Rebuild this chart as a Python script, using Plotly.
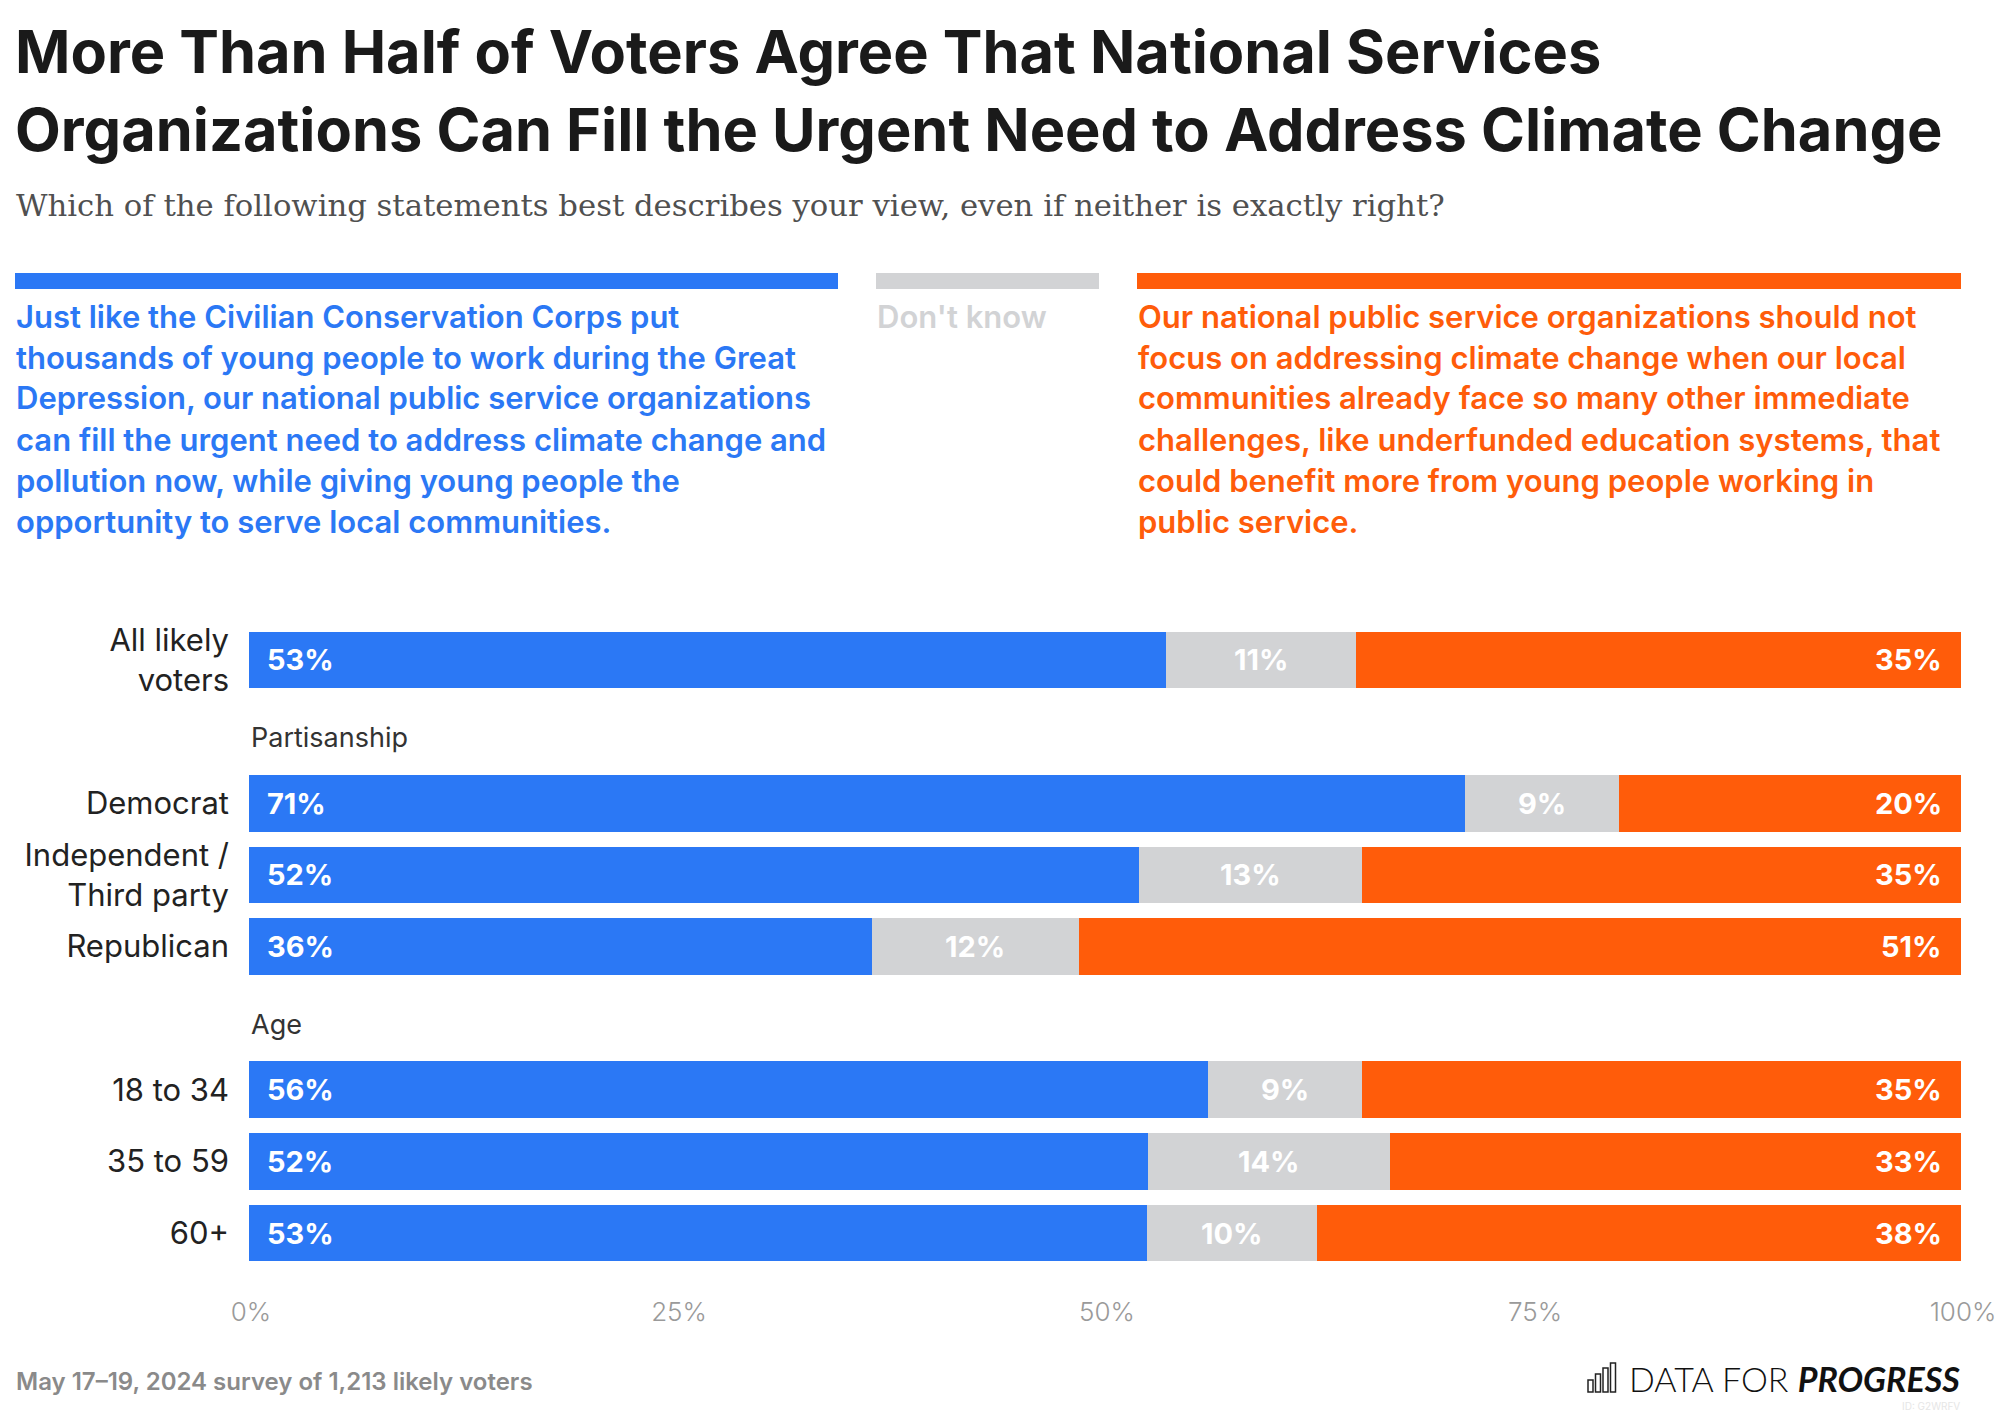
import plotly.graph_objects as go

# ---------------- data ----------------
categories = ["All likely<br>voters", "Democrat", "Independent /<br>Third party", "Republican",
              "18 to 34", "35 to 59", "60+"]
row_positions = [0, 2, 3, 4, 6, 7, 8]
agree_vals = [53, 71, 52, 36, 56, 52, 53]
dontknow_vals = [11, 9, 13, 12, 9, 14, 10]
disagree_vals = [35, 20, 35, 51, 35, 33, 38]
group_headers = ["Partisanship", "Age"]
group_header_positions = [1, 5]
x_tickvals = [0, 25, 50, 75, 100]
x_ticktext = ["0%", "25%", "50%", "75%", "100%"]

title_lines = [
    "More Than Half of Voters Agree That National Services",
    "Organizations Can Fill the Urgent Need to Address Climate Change",
]
subtitle = "Which of the following statements best describes your view, even if neither is exactly right?"
agree_lines = [
    "Just like the Civilian Conservation Corps put",
    "thousands of young people to work during the Great",
    "Depression, our national public service organizations",
    "can fill the urgent need to address climate change and",
    "pollution now, while giving young people the",
    "opportunity to serve local communities.",
]
dontknow_label = "Don't know"
disagree_lines = [
    "Our national public service organizations should not",
    "focus on addressing climate change when our local",
    "communities already face so many other immediate",
    "challenges, like underfunded education systems, that",
    "could benefit more from young people working in",
    "public service.",
]
footer = "May 17\u201319, 2024 survey of 1,213 likely voters"

BLUE = "#2B78F5"
GRAY = "#D2D3D5"
ORANGE = "#FF5C0A"
FONT = "Inter"

W, H = 1999, 1411
PL, PR, PT, PB = 249, 1961, 617, 1276


def px(x):
    return (x - PL) / (PR - PL)


def py(y):
    return (PB - y) / (PB - PT)


totals = [a + d + o for a, d, o in zip(agree_vals, dontknow_vals, disagree_vals)]
agree_n = [a / t * 100 for a, t in zip(agree_vals, totals)]
dk_n = [d / t * 100 for d, t in zip(dontknow_vals, totals)]
dis_n = [o / t * 100 for o, t in zip(disagree_vals, totals)]

fig = go.Figure()
for vals, col, name in [(agree_n, BLUE, "Agree"), (dk_n, GRAY, "Don't know"), (dis_n, ORANGE, "Disagree")]:
    fig.add_trace(go.Bar(
        y=row_positions, x=vals, orientation="h", marker=dict(color=col, line=dict(width=0)),
        width=0.79, name=name, hoverinfo="skip", showlegend=False,
    ))

ann = []
label_font = dict(family=FONT, size=29, color="white", weight=700)
for i, yv in enumerate(row_positions):
    ann.append(dict(x=0, y=yv, xref="x", yref="y", text=f"{agree_vals[i]}%", showarrow=False,
                    xanchor="left", xshift=16, font=label_font))
    ann.append(dict(x=agree_n[i] + dk_n[i] / 2, y=yv, xref="x", yref="y", text=f"{dontknow_vals[i]}%",
                    showarrow=False, xanchor="center", font=label_font))
    ann.append(dict(x=100, y=yv, xref="x", yref="y", text=f"{disagree_vals[i]}%", showarrow=False,
                    xanchor="right", xshift=-17, font=label_font))

for h, yv in zip(group_headers, group_header_positions):
    ann.append(dict(x=0, y=yv, xref="x", yref="y", text=h, showarrow=False, xanchor="left",
                    yshift=-6, font=dict(family=FONT, size=27, color="#333333")))

# titles
for k, line in enumerate(title_lines):
    ann.append(dict(x=px(13), y=py(51 + 78 * k), xref="paper", yref="paper", text=line,
                    showarrow=False, xanchor="left", yanchor="middle",
                    font=dict(family=FONT, size=59.5, color="#1A1A1A", weight=700)))
ann.append(dict(x=px(14), y=py(205), xref="paper", yref="paper", text=subtitle, showarrow=False,
                xanchor="left", yanchor="middle",
                font=dict(family="DejaVu Serif", size=30.7, color="#505050")))

# legend texts
for k, line in enumerate(agree_lines):
    ann.append(dict(x=px(14), y=py(316 + 41 * k), xref="paper", yref="paper", text=line, showarrow=False,
                    xanchor="left", yanchor="middle", font=dict(family=FONT, size=31, color=BLUE, weight=600)))
ann.append(dict(x=px(875), y=py(316), xref="paper", yref="paper", text=dontknow_label, showarrow=False,
                xanchor="left", yanchor="middle", font=dict(family=FONT, size=31, color=GRAY, weight=600)))
for k, line in enumerate(disagree_lines):
    ann.append(dict(x=px(1136), y=py(316 + 41 * k), xref="paper", yref="paper", text=line, showarrow=False,
                    xanchor="left", yanchor="middle", font=dict(family=FONT, size=31, color=ORANGE, weight=600)))

# footer
ann.append(dict(x=px(14), y=py(1381), xref="paper", yref="paper", text=footer, showarrow=False,
                xanchor="left", yanchor="middle", font=dict(family=FONT, size=24, color="#8A8A8A", weight=600)))
ann.append(dict(x=px(1962), y=py(1378), xref="paper", yref="paper",
                text="DATA FOR <b><i>PROGRESS</i></b>", showarrow=False,
                xanchor="right", yanchor="middle", font=dict(family="Lato", size=34, color="#111111", weight=300)))
ann.append(dict(x=px(1962), y=py(1406), xref="paper", yref="paper", text="ID: G2WRFV", showarrow=False,
                xanchor="right", yanchor="middle", font=dict(family=FONT, size=10, color="#E6E6E6")))

shapes = []
for x0, x1, col in [(15, 838, BLUE), (876, 1099, GRAY), (1137, 1961, ORANGE)]:
    shapes.append(dict(type="rect", xref="paper", yref="paper", x0=px(x0), x1=px(x1), y0=py(289), y1=py(273),
                       fillcolor=col, line=dict(width=0)))
# logo icon
for j, hgt in enumerate([12, 18, 24, 29]):
    x0 = 1588 + j * 7.5
    shapes.append(dict(type="rect", xref="paper", yref="paper", x0=px(x0), x1=px(x0 + 5),
                       y0=py(1392), y1=py(1392 - hgt), fillcolor="white",
                       line=dict(width=1.5, color="#222222")))

fig.update_layout(
    width=W, height=H, barmode="stack",
    margin=dict(l=PL, r=W - PR, t=PT, b=H - PB, pad=0, autoexpand=False),
    paper_bgcolor="white", plot_bgcolor="white",
    annotations=ann, shapes=shapes, bargap=0,
    xaxis=dict(range=[0, 100], tickvals=x_tickvals, ticktext=x_ticktext, showgrid=False, zeroline=False,
               showline=False, ticks="", tickfont=dict(family=FONT, size=26, color="#9A9A9A", weight=300),
               ticklabelstandoff=18, ticklabelshift=2, ticklabeloverflow="allow",
               fixedrange=True, automargin=False),
    yaxis=dict(range=[8.6, -0.6], tickvals=row_positions, ticktext=categories, showgrid=False,
               zeroline=False, showline=False, ticks="", ticklabelstandoff=19,
               tickfont=dict(family=FONT, size=31, color="#222222"), fixedrange=True, automargin=False),
    font=dict(family=FONT),
)

fig.write_html("out.html")
